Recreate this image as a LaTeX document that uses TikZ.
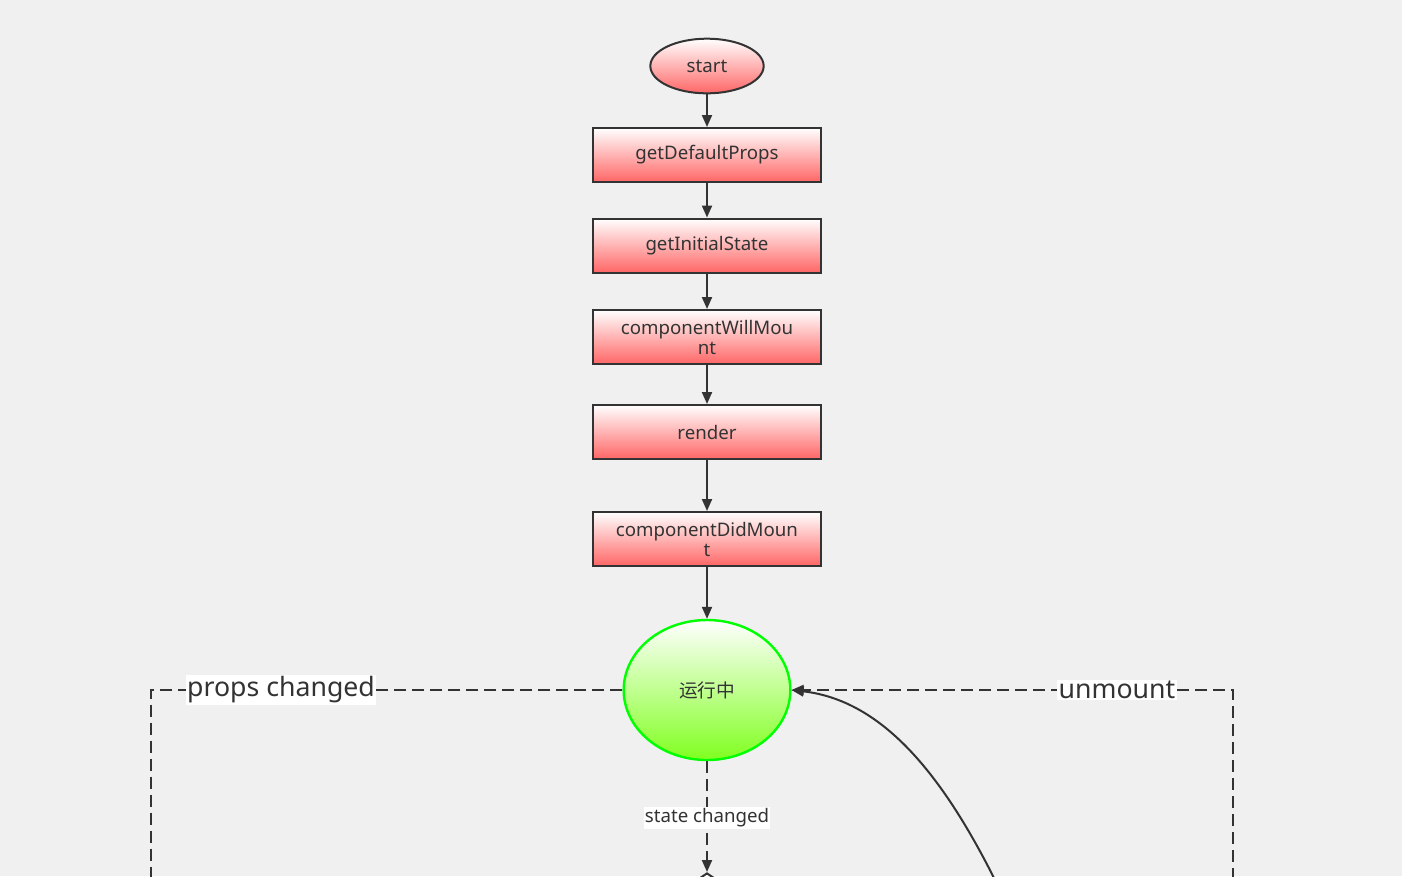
\documentclass[tikz,border=0pt]{standalone}
\usepackage{fontspec}
\setmainfont{Noto Sans}
\newfontfamily\cjk{Noto Sans CJK SC}
\usetikzlibrary{arrows.meta,shapes.geometric}
\definecolor{bg}{HTML}{F0F0F0}
\definecolor{ink}{HTML}{333333}
\definecolor{rd}{HTML}{FF6666}
\definecolor{gr}{HTML}{80FF20}
\begin{document}
\begin{tikzpicture}[x=0.75pt,y=-0.75pt,
 box/.style={draw=ink,line width=1.5pt,minimum width=171pt,minimum height=40.5pt,top color=white,bottom color=rd,align=center,font=\fontsize{14}{15}\selectfont,text=ink,inner sep=0pt},
 arr/.style={draw=ink,line width=1.5pt,-{Triangle[length=9pt,width=7.5pt]}},
 dsh/.style={draw=ink,line width=1.5pt,dash pattern=on 9pt off 4.5pt},
 lab/.style={fill=white,text=ink,inner sep=1pt,font=\fontsize{20}{22}\selectfont},
 slab/.style={fill=white,text=ink,inner sep=1pt,font=\fontsize{14}{15}\selectfont}]
\fill[bg] (0,0) rectangle (1402,876);
\useasboundingbox (0,0) rectangle (1402,876);
\begin{scope}
\clip (0,0) rectangle (1402,876);
\node[ellipse,draw=ink,line width=1.5pt,minimum width=85pt,minimum height=41pt,top color=white,bottom color=rd,text=ink,font=\fontsize{14}{15}\selectfont] (start) at (707,66) {start};
\node[box] (b1) at (707,155) {getDefaultProps};
\node[box] (b2) at (707,245.5) {getInitialState};
\node[box] (b3) at (707,337) {componentWillMou\\nt};
\node[box] (b4) at (707,432) {render};
\node[box] (b5) at (707,539) {componentDidMoun\\t};
\node[ellipse,draw=green,line width=1.8pt,minimum width=125pt,minimum height=105pt,top color=white,bottom color=gr,text=ink,font=\cjk\fontsize{14}{15}\selectfont] (run) at (707,690) {运行中};
\node[diamond,draw=ink,line width=1.5pt,minimum width=60pt,minimum height=40pt,top color=white,bottom color=gr,anchor=north] (dia) at (707,872) {};
\coordinate (pl) at (151,690);
\coordinate (pb) at (151,880);
\coordinate (ur) at (1233,690);
\coordinate (ub) at (1233,880);
\coordinate (cb) at (995,880);
\draw[arr] (start) -- (b1);
\draw[arr] (b1) -- (b2);
\draw[arr] (b2) -- (b3);
\draw[arr] (b3) -- (b4);
\draw[arr] (b4) -- (b5);
\draw[arr] (b5) -- (run);
\draw[dsh] (run.west) -- (pl) -- (pb);
\node[lab] at (281,690) {props changed};
\draw[dsh,-{Triangle[length=9pt,width=7.5pt]}] (ub) -- (ur) -- (run.east);
\node[lab] at (1117,690) {unmount};
\draw[arr] (cb) .. controls (940,770) and (880,700) .. (run.east);
\draw[dsh,-{Triangle[length=9pt,width=7.5pt]}] (run.south) -- (dia.north);
\node[slab] at (707,818) {state changed};
\end{scope}
\end{tikzpicture}
\end{document}
